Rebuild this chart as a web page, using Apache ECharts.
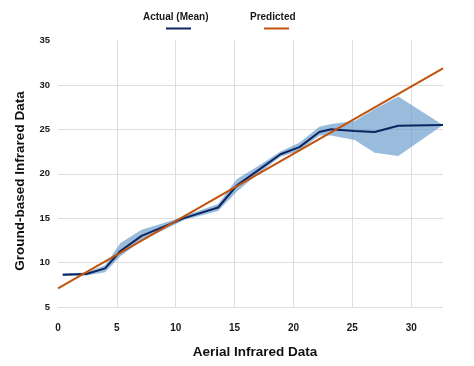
<!DOCTYPE html>
<html>
<head>
<meta charset="utf-8">
<script src="https://cdn.jsdelivr.net/npm/echarts@6/dist/echarts.min.js"></script>
<style>html,body{margin:0;padding:0;background:#fff}#c{width:474px;height:366px}</style>
</head>
<body>
<div id="c"></div>
<script>
// Data
const xVals  = [0.4, 2.4, 4.0, 5.3, 7.1, 9.8, 10.7, 13.6, 15.2, 16.9, 18.9, 20.5, 22.2, 23.2, 25.2, 26.9, 28.9, 32.7];
const meanY  = [8.64, 8.72, 9.35, 11.3, 13.0, 14.5, 15.0, 16.2, 18.7, 20.3, 22.2, 23.0, 24.7, 25.0, 24.8, 24.7, 25.4, 25.5];
const upperY = [8.78, 8.88, 9.7, 12.2, 13.7, 14.8, 15.25, 16.6, 19.4, 20.8, 22.5, 23.5, 25.3, 25.6, 25.95, 27.3, 28.7, 25.5];
const lowerY = [8.52, 8.55, 8.9, 10.7, 12.5, 14.2, 14.8, 15.8, 18.0, 19.9, 21.9, 22.6, 24.3, 24.3, 23.8, 22.35, 22.0, 25.5];
const predX  = [0, 32.7];
const predY  = [7.1, 31.85];
const xTicks = [0, 5, 10, 15, 20, 25, 30];
const yTicks = [5, 10, 15, 20, 25, 30, 35];
const seriesNames = ['Actual (Mean)', 'Predicted'];
const xTitle = 'Aerial Infrared Data';
const yTitle = 'Ground-based Infrared Data';

const FONT = '"Liberation Sans", Arial, sans-serif';
const chart = echarts.init(document.getElementById('c'), null, {renderer: 'canvas'});

const bandData = xVals.map((x, i) => [x, lowerY[i], upperY[i]]);
const meanData = xVals.map((x, i) => [x, meanY[i]]);
const predData = predX.map((x, i) => [x, predY[i]]);

const gridL = 58, gridR = 31, gridT = 40.5, gridB = 59;

chart.setOption({
  animation: false,
  backgroundColor: '#fff',
  grid: {left: gridL, right: gridR, top: gridT, bottom: gridB},
  xAxis: {
    type: 'value', min: 0, max: 32.7, interval: 5,
    axisLine: {show: false}, axisTick: {show: false},
    axisLabel: {
      margin: 16, fontSize: 10, fontWeight: 'bold', color: '#1a1a1a', fontFamily: FONT,
      showMaxLabel: false,
      formatter: v => xTicks.includes(v) ? String(v) : ''
    },
    splitLine: {show: true, showMinLine: false, showMaxLine: false, lineStyle: {color: '#dedede', width: 1}}
  },
  yAxis: {
    type: 'value', min: 5, max: 35, interval: 5,
    axisLine: {show: false}, axisTick: {show: false},
    axisLabel: {
      margin: 8, fontSize: 9.5, fontWeight: 'bold', color: '#1a1a1a', fontFamily: FONT,
      formatter: v => yTicks.includes(v) ? String(v) : ''
    },
    splitLine: {show: true, showMaxLine: false, lineStyle: {color: '#dedede', width: 1}}
  },
  series: [
    {
      type: 'custom', name: 'band', data: bandData, silent: true, z: 1,
      encode: {x: 0, y: [1, 2]},
      renderItem: function (params, api) {
        if (params.dataIndex !== 0) return;
        const pts = [];
        for (let i = 0; i < bandData.length; i++) pts.push(api.coord([bandData[i][0], bandData[i][2]]));
        for (let i = bandData.length - 1; i >= 0; i--) pts.push(api.coord([bandData[i][0], bandData[i][1]]));
        return {type: 'polygon', shape: {points: pts}, style: {fill: 'rgba(95,150,200,0.64)'}};
      }
    },
    {
      type: 'line', name: seriesNames[0], data: meanData,
      symbol: 'none', lineStyle: {color: '#0a2560', width: 2}, z: 3
    },
    {
      type: 'line', name: seriesNames[1], data: predData,
      symbol: 'none', lineStyle: {color: '#c2530c', width: 2}, z: 4
    }
  ],
  graphic: [
    {type: 'text', left: 143, top: 12, style: {text: seriesNames[0], fontSize: 10, fontWeight: 'bold', fill: '#1a1a1a', fontFamily: FONT}},
    {type: 'line', shape: {x1: 166, y1: 28.5, x2: 191, y2: 28.5}, style: {stroke: '#0a2560', lineWidth: 2}},
    {type: 'text', left: 250, top: 12, style: {text: seriesNames[1], fontSize: 10, fontWeight: 'bold', fill: '#1a1a1a', fontFamily: FONT}},
    {type: 'line', shape: {x1: 264, y1: 28.5, x2: 289, y2: 28.5}, style: {stroke: '#c2530c', lineWidth: 2}},
    {type: 'text', x: 255, y: 352, style: {text: xTitle, fontSize: 13.5, fontWeight: 'bold', fill: '#111', fontFamily: FONT, align: 'center', verticalAlign: 'middle'}},
    {type: 'text', x: 20, y: 181, rotation: Math.PI / 2, style: {text: yTitle, fontSize: 13.5, fontWeight: 'bold', fill: '#111', fontFamily: FONT, align: 'center', verticalAlign: 'middle'}}
  ]
});
</script>
</body>
</html>
